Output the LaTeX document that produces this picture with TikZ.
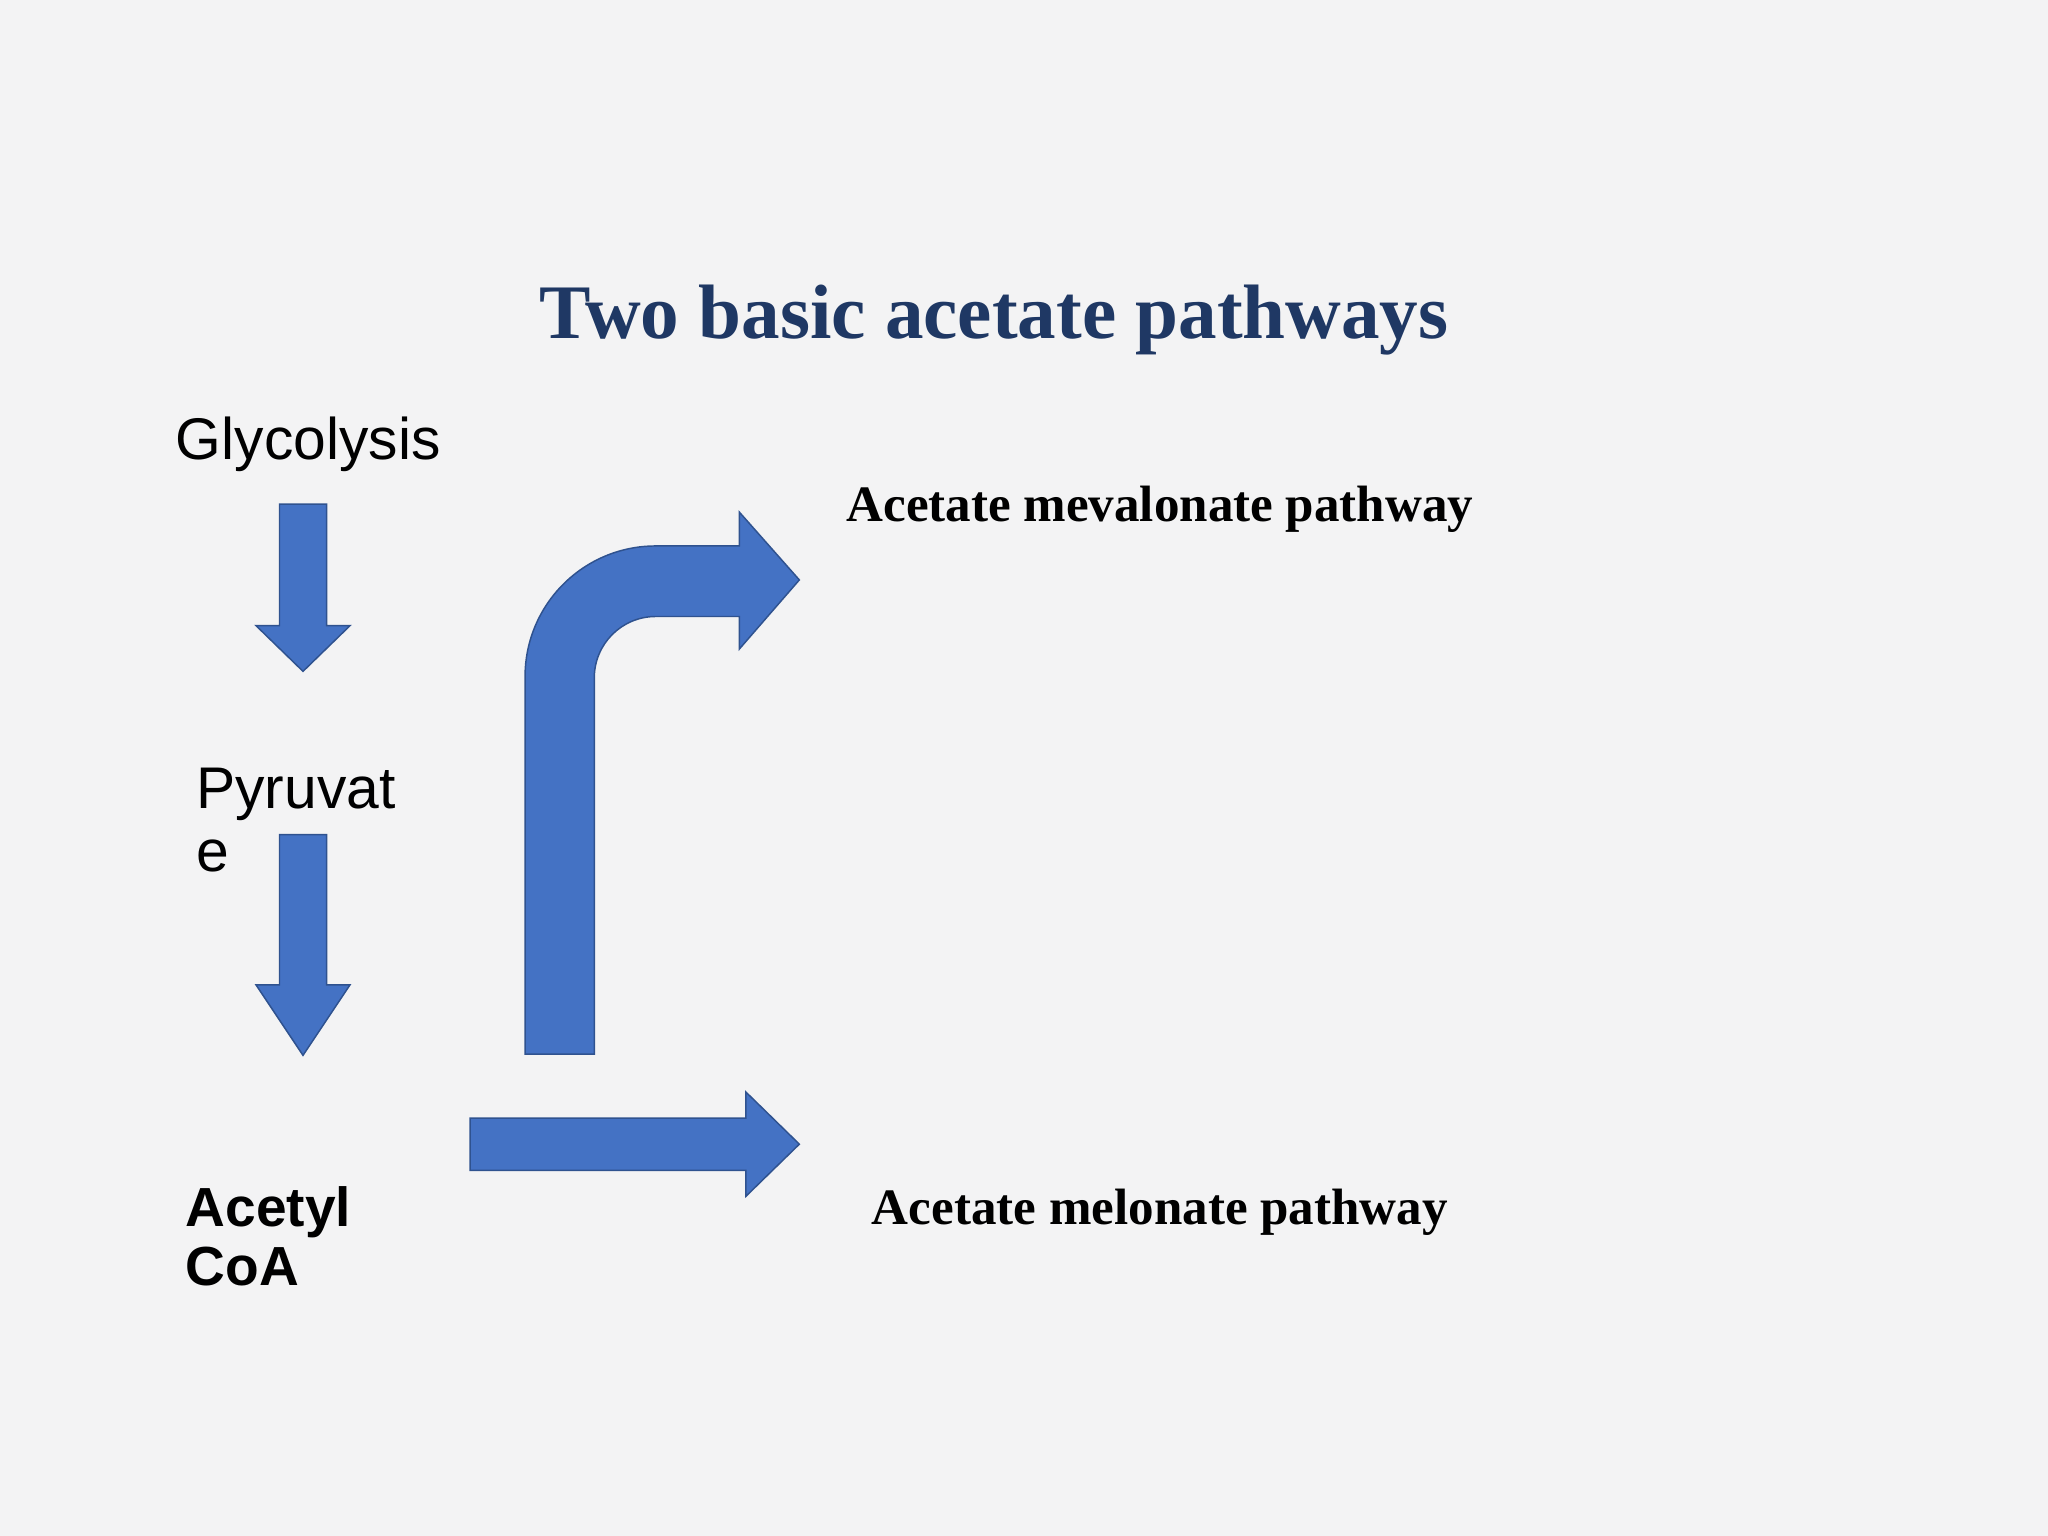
\documentclass[tikz,border=0pt]{standalone}
\usepackage{fontspec}
\setmainfont{Liberation Serif}
\newfontfamily\arial{Liberation Sans}
\definecolor{bg}{HTML}{F3F3F4}
\definecolor{af}{HTML}{4472C4}
\definecolor{ab}{HTML}{2F528F}
\definecolor{tt}{HTML}{1F3864}
\begin{document}
\begin{tikzpicture}[x=0.025cm,y=-0.025cm,
  arr/.style={fill=af,draw=ab,line width=0.8pt,line join=miter},
  lab/.style={font=\arial\fontsize{32}{38}\selectfont,inner sep=0pt},
  pw/.style={font=\bfseries\fontsize{27.8}{33}\selectfont,inner sep=0pt}]
\fill[bg] (0,0) rectangle (1568,1176);
\useasboundingbox (0,0) rectangle (1568,1176);
\node[font=\bfseries\fontsize{42}{50}\selectfont,text=tt,inner sep=0pt] (title) at (761,245) {Two basic acetate pathways};
\node[lab] (gly) at (236,340) {Glycolysis};
\node[lab,align=left,anchor=north west] (pyr) at (150,588) {Pyruvat\\[-4pt]e};
\node[lab,align=left,anchor=north west,font=\arial\bfseries\fontsize{30}{36}\selectfont] (acoa) at (142,908) {Acetyl\\[-4pt]CoA};
\node[pw] (mev) at (888,390) {Acetate mevalonate pathway};
\node[pw] (mel) at (888,928) {Acetate melonate pathway};
\draw[arr] (214,386)--(250,386)--(250,479)--(268,479)--(232,514)--(196,479)--(214,479)--cycle;
\draw[arr] (214,639)--(250,639)--(250,754)--(268,754)--(232,808)--(196,754)--(214,754)--cycle;
\draw[arr] (360,856)--(571,856)--(571,836)--(612,876)--(571,916)--(571,896)--(360,896)--cycle;
\draw[arr] (402,807)--(402,518) arc[start angle=180,end angle=270,radius=100]
  --(566,418)--(566,392)--(612,444)--(566,497)--(566,472)--(502,472)
  arc[start angle=270,end angle=180,radius=47]--(455,807)--cycle;
\end{tikzpicture}
\end{document}
